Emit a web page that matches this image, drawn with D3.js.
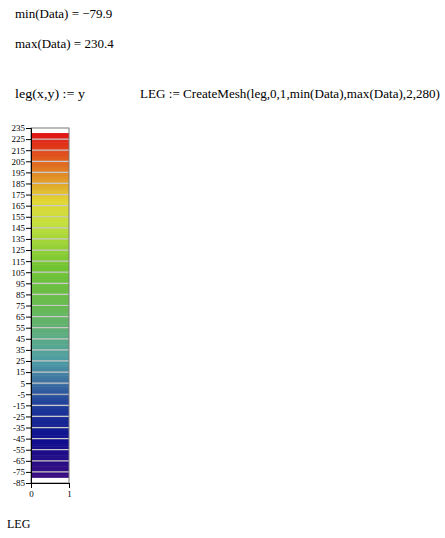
<!DOCTYPE html><html><head><meta charset="utf-8"><script src="https://d3js.org/d3.v7.min.js"></script>
<style>body{margin:0;background:#fff}</style></head><body>
<script>
const yTicks=d3.range(235,-86,-10);
const dataMin=-79.9, dataMax=230.4;
const colorVals=[-80,-45,-15,5,25,45,75,110,150,170,200,230];
const colorHex=["#3a0c80","#0e0e8e","#1e3c9a","#3a6ca0","#4e9ca4","#5aaa88","#68ba50","#70c430","#c4e03c","#e2d634","#e07422","#e01414"];
const W=445,H=538;
const FF="'Liberation Serif','DejaVu Serif',serif";
const svg=d3.select("body").append("svg").attr("width",W).attr("height",H).attr("font-family",FF);
const t=(x,y,s,sz,len)=>{const e=svg.append("text").attr("x",x).attr("y",y).attr("font-size",sz||13).attr("font-family",FF).text(s);if(len)e.attr("textLength",len).attr("lengthAdjust","spacingAndGlyphs");return e;};
t(15,18,"min(Data) = \u221279.9");
t(15,48,"max(Data) = 230.4");
t(15,98,"leg(x,y) := y",13,70);
t(140,98,"LEG := CreateMesh(leg,0,1,min(Data),max(Data),2,280)",13,300);
t(7,528,"LEG",12);
const x=d3.scaleLinear().domain([0,1]).range([31,69]);
const y=d3.scaleLinear().domain([-85,235]).range([483,128]);
const col=d3.scaleLinear().domain(colorVals).range(colorHex);
const step=2;
const bands=d3.range(dataMin,dataMax,step);
svg.selectAll("rect.b").data(bands).join("rect").attr("x",x(0)).attr("width",x(1)-x(0))
 .attr("y",d=>y(Math.min(d+step,dataMax))).attr("height",d=>y(d)-y(Math.min(d+step,dataMax))+0.5)
 .attr("fill",d=>col(d+step/2));
svg.selectAll("line.g").data(yTicks.filter(v=>v>dataMin&&v<dataMax)).join("line")
 .attr("x1",x(0)).attr("x2",x(1)).attr("y1",d=>y(d)).attr("y2",d=>y(d)).attr("stroke","#c8c8c8").attr("stroke-width",1.2);
svg.append("rect").attr("x",x(0)).attr("y",y(235)).attr("width",x(1)-x(0)).attr("height",y(-85)-y(235)).attr("fill","none").attr("stroke","#777");
const ya=svg.append("g").attr("transform",`translate(${x(0)},0)`).call(d3.axisLeft(y).tickValues(yTicks).tickSize(5).tickPadding(1).tickFormat(d=>String(d)));
const xa=svg.append("g").attr("transform",`translate(0,${y(-85)})`).call(d3.axisBottom(x).tickValues([0,1]).tickFormat(d=>String(d)).tickSize(5));
[ya,xa].forEach(a=>{a.attr("font-family",FF);a.selectAll("text").attr("font-size",9).attr("fill","#000");a.select(".domain").attr("stroke","#000");a.selectAll("line").attr("stroke","#000");});
</script></body></html>
